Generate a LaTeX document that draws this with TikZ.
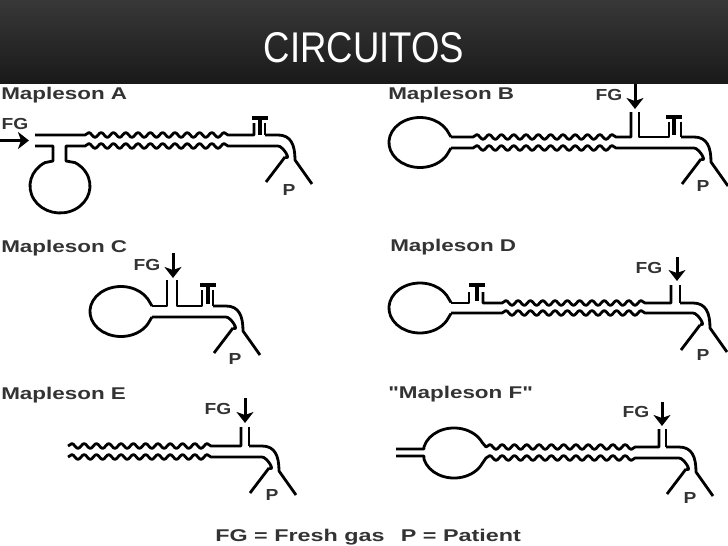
\documentclass[tikz,border=0pt]{standalone}
\usepackage{fontspec}
\setmainfont{Liberation Sans}
\newfontfamily\straightfont{Liberation Sans}
\usetikzlibrary{arrows.meta,decorations.pathmorphing}

\tikzset{
  tube/.style={line width=2.8pt,line join=round,black},
  coil/.style={decoration={snake,segment length=12.3pt,amplitude=2.4pt}},
  gasin/.style={-{Stealth[length=11pt,width=17pt,inset=3pt]},line width=3pt,black},
  heading/.style={anchor=base west,inner sep=0pt,xscale=1.32,text=black!80,
    font=\bfseries\fontsize{17}{19}\selectfont},
  tag/.style={inner sep=0pt,xscale=1.2,text=black!80,
    font=\bfseries\fontsize{16}{18}\selectfont}
}

% patient limb, from the end of the upper tube
\newcommand{\PatientEnd}[2]{
  \begin{scope}[shift={(#1,#2)}]
    \draw[tube] (0,0) -- (13,0) .. controls (26,0) and (30,-10) .. (30,-25) -- (47,-49);
    \draw[tube] (20,-22) -- (1,-47);
  \end{scope}
}

% valve top
\newcommand{\ValveT}[3]{
  \draw[line width=3.2pt,black] (#1-8,#2) -- (#1+8,#2);
  \draw[line width=3.2pt,black] (#1,#2) -- (#1,#3);
}

% bag with its neck on the right
\newcommand{\BagAt}[2]{
  \begin{scope}[shift={(#1,#2)}]
    \draw[tube] (31,5.5) -- (26.8,12.5) arc[start angle=30,end angle=330,x radius=31,y radius=25] -- (31,-5.5);
  \end{scope}
}

\begin{document}
\begin{tikzpicture}[x=1pt,y=1pt]

\useasboundingbox (0,0) rectangle (728,-546);

% Header

\fill[top color=black!78,bottom color=black!90] (0,0) rectangle (728,-83);
\node (title) at (364,-48) [text=white,xscale=0.85,font=\fontsize{43}{45}\selectfont] {CIRCUITOS};

% Mapleson A

\node (nameA) at (1,-99) [heading] {Mapleson A};
\node (fgA) at (15,-124) [tag] {FG};
\node (patA) at (289,-190) [tag] {P};
\coordinate (fgAstart) at (0,-140.5);
\coordinate (fgAtip) at (29,-140.5);
\draw[gasin] (fgAstart) -- (fgAtip);

\draw[tube] (35,-135) -- (85,-135) decorate[coil] {-- (232,-135)} -- (254,-135) -- (254,-123);
\draw[tube] (265,-123) -- (265,-135);
\ValveT{260}{-118}{-135}
\PatientEnd{265}{-135}

\draw[tube] (35,-146) -- (53,-146) -- (53,-161) -- (45,-162.6)
  arc[start angle=120,end angle=420,x radius=30,y radius=27] -- (66,-161) -- (66,-146)
  -- (85,-146) decorate[coil] {-- (232,-146)} -- (278,-146)
  .. controls +(5,0) and +(7,-4) .. +(7,-11);

% Mapleson B

\node (nameB) at (388,-99) [heading] {Mapleson B};
\node (fgB) at (609,-95) [tag] {FG};
\node (patB) at (703,-186) [tag] {P};
\coordinate (fgBstart) at (635,-84);
\coordinate (fgBtip) at (635,-109);
\draw[gasin] (fgBstart) -- (fgBtip);

\BagAt{420}{-142.5}
\draw[tube] (451,-137) -- (473,-137) decorate[coil] {-- (621,-137)} -- (631,-137) -- (631,-112);
\draw[tube] (639,-112) -- (639,-137) -- (669,-137) -- (669,-122);
\draw[tube] (681,-122) -- (681,-137);
\ValveT{674}{-117}{-135}
\PatientEnd{681}{-137}

\draw[tube] (451,-148) -- (473,-148) decorate[coil] {-- (621,-148)} -- (694,-148)
  .. controls +(5,0) and +(7,-4) .. +(7,-11);

% Mapleson C

\node (nameC) at (1,-252) [heading] {Mapleson C};
\node (fgC) at (147,-265) [tag] {FG};
\node (patC) at (235,-359) [tag] {P};
\coordinate (fgCstart) at (173,-253);
\coordinate (fgCtip) at (173,-278);
\draw[gasin] (fgCstart) -- (fgCtip);

\BagAt{121}{-311.5}
\draw[tube] (152,-306) -- (167,-306) -- (167,-280);
\draw[tube] (177,-280) -- (177,-306) -- (202,-306) -- (202,-290);
\draw[tube] (213,-290) -- (213,-306);
\ValveT{208}{-285}{-304}
\PatientEnd{213}{-306}

\draw[tube] (152,-317) -- (226,-317) .. controls +(5,0) and +(7,-4) .. +(7,-11);

% Mapleson D

\node (nameD) at (390,-251) [heading] {Mapleson D};
\node (fgD) at (649,-268) [tag] {FG};
\node (patD) at (703,-355) [tag] {P};
\coordinate (fgDstart) at (677,-257);
\coordinate (fgDtip) at (677,-281);
\draw[gasin] (fgDstart) -- (fgDtip);

\BagAt{420}{-308}
\draw[tube] (451,-303) -- (469,-303) -- (469,-292);
\draw[tube] (483,-292) -- (483,-303) -- (502,-303) decorate[coil] {-- (649,-303)} -- (671,-303) -- (671,-285);
\draw[tube] (680,-285) -- (680,-303);
\ValveT{477}{-285}{-301}
\PatientEnd{680}{-303}

\draw[tube] (451,-313) -- (502,-313) decorate[coil] {-- (649,-313)} -- (693,-313)
  .. controls +(5,0) and +(7,-4) .. +(7,-11);

% Mapleson E

\node (nameE) at (1,-399) [heading] {Mapleson E};
\node (fgE) at (218,-409) [tag] {FG};
\node (patE) at (272,-495) [tag] {P};
\coordinate (fgEstart) at (245,-398);
\coordinate (fgEtip) at (245,-423);
\draw[gasin] (fgEstart) -- (fgEtip);

\draw[tube] (68,-446) decorate[coil] {-- (217,-446)} -- (241,-446) -- (241,-427);
\draw[tube] (249,-427) -- (249,-446);
\PatientEnd{249}{-446}

\draw[tube] (68,-457) decorate[coil] {-- (217,-457)} -- (262,-457)
  .. controls +(5,0) and +(7,-4) .. +(7,-11);

% Mapleson F

\node (nameF) at (388,-398) [heading] {\straightfont"Mapleson F"};
\node (fgF) at (636,-412) [tag] {FG};
\node (patF) at (690,-498) [tag] {P};
\coordinate (fgFstart) at (662,-402);
\coordinate (fgFtip) at (662,-426);
\draw[gasin] (fgFstart) -- (fgFtip);

\draw[tube] (396,-449) -- (424,-449) -- (424.1,-446.5)
  arc[start angle=165,end angle=25,x radius=31,y radius=25] -- (486,-447)
  decorate[coil] {-- (636,-447)} -- (659,-447) -- (659,-429);
\draw[tube] (666,-429) -- (666,-447);
\PatientEnd{666}{-447}

\draw[tube] (396,-456) -- (424,-456) -- (424.1,-459.5)
  arc[start angle=195,end angle=335,x radius=31,y radius=25] -- (486,-458)
  decorate[coil] {-- (636,-458)} -- (679,-458)
  .. controls +(5,0) and +(7,-4) .. +(7,-11);

% Key

\node (key) at (215,-541) [heading,xscale=1.04] {FG = Fresh gas\hspace{0.7em}P = Patient};

\end{tikzpicture}
\end{document}
